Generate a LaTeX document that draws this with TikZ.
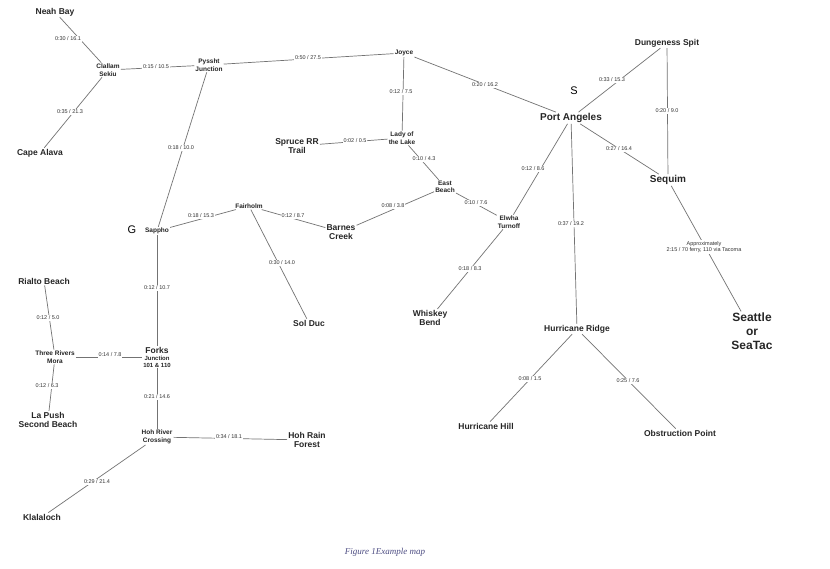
\documentclass[tikz,border=0pt]{standalone}
\usepackage{fontspec}
\setmainfont{Liberation Sans}
\newfontfamily\capfont{Liberation Serif}
\begin{document}
\begin{tikzpicture}[x=1pt,y=-1pt,
 place/.style={font=\fontsize{8.5}{9.5}\selectfont\bfseries,align=center,inner sep=1pt,text=black!85},
 bigplace/.style={place,font=\fontsize{10}{11.5}\selectfont\bfseries},
 hugeplace/.style={place,font=\fontsize{12}{14}\selectfont\bfseries},
 lab/.style={font=\fontsize{5.5}{6.5}\selectfont,fill=white,inner sep=1pt,align=center,text=black!80},
 road/.style={draw=black!55,line width=0.7pt}]
\useasboundingbox (0,0) rectangle (830,568);
\fill[white] (0,0) rectangle (830,568);
% places
\node[place] (neah) at (55,12) {Neah Bay};
\node[place,font=\fontsize{6.5}{7.5}\selectfont\bfseries] (clallam) at (108,70) {Clallam\\Sekiu};
\node[place,font=\fontsize{6.5}{7.5}\selectfont\bfseries] (pysht) at (209,65) {Pyssht\\Junction};
\node[place,font=\fontsize{6.5}{7.5}\selectfont\bfseries] (joyce) at (404,53) {Joyce};
\node[bigplace] (pa) at (571,118) {Port Angeles};
\node[font=\fontsize{11}{12}\selectfont] (S) at (574,91) {S};
\node[place] (dung) at (667,43) {Dungeness Spit};
\node[bigplace] (sequim) at (668,180) {Sequim};
\node[place] (cape) at (40,153) {Cape Alava};
\node[place] (spruce) at (297,146) {Spruce RR\\Trail};
\node[place,font=\fontsize{6.5}{7.5}\selectfont\bfseries] (lady) at (402,138) {Lady of\\the Lake};
\node[place,font=\fontsize{6.5}{7.5}\selectfont\bfseries] (east) at (445,187) {East\\Beach};
\node[place,font=\fontsize{6.5}{7.5}\selectfont\bfseries] (elwha) at (509,222) {Elwha\\Turnoff};
\node[place,font=\fontsize{6.5}{7.5}\selectfont\bfseries] (fair) at (249,206) {Fairholm};
\node[place] (barnes) at (341,232) {Barnes\\Creek};
\node[place,font=\fontsize{6.5}{7.5}\selectfont\bfseries] (sappho) at (157,231) {Sappho};
\node[font=\fontsize{11}{12}\selectfont] (G) at (132,230) {G};
\node[place] (solduc) at (309,323) {Sol Duc};
\node[place] (whiskey) at (430,318) {Whiskey\\Bend};
\node[place] (ridge) at (577,329) {Hurricane Ridge};
\node[place] (hill) at (486,426) {Hurricane Hill};
\node[place] (obst) at (680,433) {Obstruction Point};
\node[hugeplace] (seattle) at (752,331) {Seattle\\or\\SeaTac};
\node[place] (rialto) at (44,281) {Rialto Beach};
\node[place,font=\fontsize{6.5}{7.5}\selectfont\bfseries] (three) at (55,357) {Three Rivers\\Mora};
\node[place] (lapush) at (48,420) {La Push\\Second Beach};
\node[place,font=\fontsize{6}{7}\selectfont\bfseries] (forks) at (157,357) {\fontsize{8.5}{9.5}\selectfont Forks\\Junction\\101 \& 110};
\node[place,font=\fontsize{6.5}{7.5}\selectfont\bfseries] (hohx) at (157,437) {Hoh River\\Crossing};
\node[place] (hohrf) at (307,440) {Hoh Rain\\Forest};
\node[place] (kala) at (42,517) {Klalaloch};
\node[font=\capfont\itshape\fontsize{9}{10}\selectfont,text=blue!30!black!70] (cap) at (385,552) {Figure 1Example map};
% roads
\begin{scope}[on background layer/.try]
\draw[road] (neah) -- (clallam);
\draw[road] (clallam) -- (cape);
\draw[road] (clallam) -- (pysht);
\draw[road] (pysht) -- (joyce);
\draw[road] (pysht) -- (sappho);
\draw[road] (joyce) -- (pa);
\draw[road] (joyce) -- (lady);
\draw[road] (lady) -- (spruce);
\draw[road] (lady) -- (east);
\draw[road] (east) -- (barnes);
\draw[road] (east) -- (elwha);
\draw[road] (elwha) -- (pa);
\draw[road] (elwha) -- (whiskey);
\draw[road] (pa) -- (dung);
\draw[road] (dung) -- (sequim);
\draw[road] (pa) -- (sequim);
\draw[road] (pa) -- (ridge);
\draw[road] (sequim) -- (seattle);
\draw[road] (ridge) -- (hill);
\draw[road] (ridge) -- (obst);
\draw[road] (sappho) -- (fair);
\draw[road] (fair) -- (barnes);
\draw[road] (fair) -- (solduc);
\draw[road] (sappho) -- (forks);
\draw[road] (rialto) -- (three);
\draw[road] (three) -- (forks);
\draw[road] (three) -- (lapush);
\draw[road] (forks) -- (hohx);
\draw[road] (hohx) -- (hohrf);
\draw[road] (hohx) -- (kala);
\end{scope}
% labels
\node[lab] (l1) at (68,39) {0:30 / 16.1};
\node[lab] (l2) at (70,112) {0:35 / 21.3};
\node[lab] (l3) at (156,67) {0:15 / 10.5};
\node[lab] (l4) at (308,58) {0:50 / 27.5};
\node[lab] (l5) at (181,148) {0:18 / 10.0};
\node[lab] (l6) at (485,85) {0:20 / 16.2};
\node[lab] (l7) at (401,92) {0:12 / 7.5};
\node[lab] (l8) at (355,141) {0:02 / 0.5};
\node[lab] (l9) at (424,159) {0:10 / 4.3};
\node[lab] (l10) at (393,206) {0:08 / 3.8};
\node[lab] (l11) at (476,203) {0:10 / 7.6};
\node[lab] (l12) at (533,169) {0:12 / 8.6};
\node[lab] (l13) at (470,269) {0:18 / 8.3};
\node[lab] (l14) at (612,80) {0:33 / 15.3};
\node[lab] (l15) at (667,111) {0:20 / 9.0};
\node[lab] (l16) at (619,149) {0:27 / 16.4};
\node[lab] (l17) at (571,224) {0:37 / 19.2};
\node[lab] (l18) at (704,247) {Approximately\\2:15 / 70 ferry, 110 via Tacoma};
\node[lab] (l19) at (530,379) {0:08 / 1.5};
\node[lab] (l20) at (628,381) {0:25 / 7.6};
\node[lab] (l21) at (201,216) {0:18 / 15.3};
\node[lab] (l22) at (293,216) {0:12 / 8.7};
\node[lab] (l23) at (282,263) {0:30 / 14.0};
\node[lab] (l24) at (157,288) {0:12 / 10.7};
\node[lab] (l25) at (48,318) {0:12 / 5.0};
\node[lab] (l26) at (110,355) {0:14 / 7.8};
\node[lab] (l27) at (47,386) {0:12 / 6.3};
\node[lab] (l28) at (157,397) {0:21 / 14.6};
\node[lab] (l29) at (229,437) {0:34 / 18.1};
\node[lab] (l30) at (97,482) {0:29 / 21.4};
\end{tikzpicture}
\end{document}
